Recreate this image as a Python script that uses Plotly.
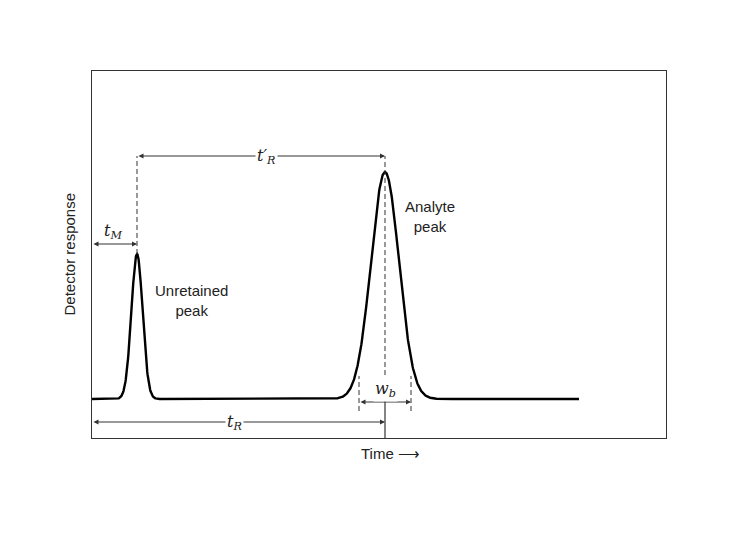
import numpy as np
import plotly.graph_objects as go

# peak parameters (time units = px offsets)
peak_names = ["Unretained peak", "Analyte peak"]
peak_times = [45, 293]
peak_heights = [145, 227]
peak_sigmas = [5.6, 14.0]
baseline = 39
t_end = 487
t_M = 45
t_R = 293
wb_start, wb_end = 267, 319

t = np.linspace(0, t_end, 1500)
y = np.full_like(t, baseline, dtype=float)
for tc, h, s in zip(peak_times, peak_heights, peak_sigmas):
    y += h * np.exp(-0.5 * ((t - tc) / s) ** 2)

fig = go.Figure(go.Scatter(x=t, y=y, mode="lines", line=dict(color="black", width=2.4),
                           hoverinfo="skip"))

shapes = []
def vline(x, y0, y1, dash="dash", w=1):
    shapes.append(dict(type="line", x0=x, x1=x, y0=y0, y1=y1, line=dict(color="#333", width=w, dash=dash)))
vline(t_M, 184, 282, dash="5px,3px")
vline(t_R, 39, 282, dash="5px,3px")
vline(t_R, 0, 39, dash="solid", w=1.2)
vline(wb_start, 27, 62, dash="5px,3px")
vline(wb_end, 27, 62, dash="5px,3px")
fig.update_layout(shapes=shapes)

def darrow(x0, x1, yy):
    fig.add_annotation(x=x1, y=yy, ax=x0, ay=yy, xref="x", yref="y", axref="x", ayref="y",
                       text="", showarrow=True, arrowhead=2, startarrowhead=2,
                       arrowside="end+start", arrowsize=1, arrowwidth=1, arrowcolor="#333")
darrow(t_M, t_R, 282)
darrow(0, t_M, 194)
darrow(0, t_R, 16)
darrow(wb_start, wb_end, 36)

mf = dict(family="DejaVu Serif", size=16, color="#222")
def lab(x, yy, txt, font=mf, bg="white"):
    fig.add_annotation(x=x, y=yy, text=txt, showarrow=False, font=font, bgcolor=bg, borderpad=1)
lab(174, 282, "<i>t′<sub>R</sub></i>")
lab(21, 207, "<i>t<sub>M</sub></i>", bg="rgba(0,0,0,0)")
lab(142, 16, "<i>t<sub>R</sub></i>")
lab(293, 49, "<i>w<sub>b</sub></i>")
sf = dict(family="Liberation Sans", size=15, color="#222")
lab(338, 222, "Analyte<br>peak", sf, "rgba(0,0,0,0)")
lab(99, 138, "Unretained<br>peak", sf, "rgba(0,0,0,0)")

fig.update_layout(
    width=740, height=555, margin=dict(l=84, r=82, t=63, b=125),
    paper_bgcolor="white", plot_bgcolor="white", showlegend=False,
    xaxis=dict(range=[0, 574], showticklabels=False, showgrid=False, zeroline=False,
               showline=True, linecolor="#333", linewidth=1.2, mirror=True, ticks=""),
    yaxis=dict(range=[0, 367], showticklabels=False, showgrid=False, zeroline=False,
               showline=True, linecolor="#333", linewidth=1.2, mirror=True, ticks=""),
)
fig.add_annotation(x=-0.04, y=0.5, xref="paper", yref="paper", text="Detector response", textangle=-90,
                   showarrow=False, font=sf, xanchor="center", yanchor="middle")
fig.add_annotation(x=0.52, y=-0.07, xref="paper", yref="paper", text="Time ⟶",
                   showarrow=False, font=sf, xanchor="center")
fig.write_html("out.html")
